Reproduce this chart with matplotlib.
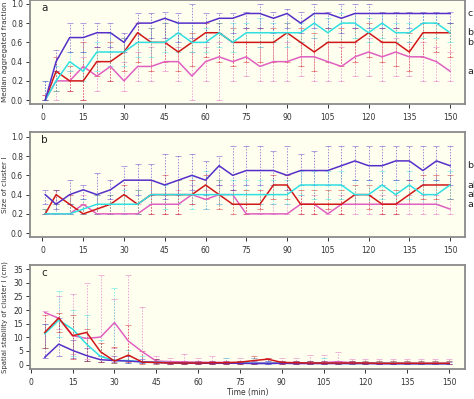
import matplotlib
matplotlib.use("Agg")
import matplotlib.pyplot as plt

# ---------------- data ----------------
time_ab = [1, 5, 10, 15, 20, 25, 30, 35, 40, 45, 50, 55, 60, 65, 70, 75, 80, 85, 90,
           95, 100, 105, 110, 115, 120, 125, 130, 135, 140, 145, 150]
time_c = time_ab[1:]
xticks = [0, 15, 30, 45, 60, 75, 90, 105, 120, 135, 150]

# Panel a: median aggregated fraction
purple_a = [0, 0.4, 0.65, 0.65, 0.7, 0.7, 0.6, 0.8, 0.8, 0.85, 0.8, 0.8, 0.8, 0.85, 0.85, 0.9,
            0.9, 0.85, 0.9, 0.8, 0.9, 0.9, 0.85, 0.9, 0.9, 0.9, 0.9, 0.9, 0.9, 0.9, 0.9]
cyan_a = [0, 0.2, 0.4, 0.3, 0.5, 0.5, 0.5, 0.6, 0.6, 0.6, 0.7, 0.6, 0.6, 0.7, 0.6, 0.7,
          0.7, 0.7, 0.7, 0.7, 0.8, 0.7, 0.8, 0.8, 0.7, 0.8, 0.7, 0.7, 0.8, 0.8, 0.7]
red_a = [0, 0.3, 0.2, 0.2, 0.4, 0.4, 0.5, 0.7, 0.6, 0.6, 0.5, 0.6, 0.7, 0.7, 0.6, 0.6,
         0.6, 0.6, 0.7, 0.6, 0.5, 0.6, 0.6, 0.6, 0.7, 0.6, 0.6, 0.5, 0.7, 0.7, 0.7]
pink_a = [0, 0.2, 0.2, 0.35, 0.25, 0.35, 0.2, 0.35, 0.35, 0.4, 0.4, 0.25, 0.4, 0.45, 0.4, 0.45,
          0.35, 0.4, 0.4, 0.45, 0.45, 0.4, 0.35, 0.45, 0.5, 0.45, 0.5, 0.45, 0.45, 0.4, 0.3]

purple_a_hi = [0.2, 0.52, 0.8, 0.8, 0.8, 0.8, 0.7, 0.9, 0.9, 0.92, 0.9, 1.0, 0.9, 0.9, 0.9, 0.92,
               1.0, 0.92, 0.95, 0.92, 1.0, 0.92, 1.0, 1.0, 1.0, 0.92, 0.92, 0.92, 0.92, 0.92, 0.92]
purple_a_lo = [0, 0.3, 0.5, 0.5, 0.55, 0.55, 0.5, 0.6, 0.65, 0.65, 0.6, 0.65, 0.6, 0.7, 0.7, 0.75,
               0.75, 0.7, 0.75, 0.7, 0.75, 0.75, 0.7, 0.75, 0.75, 0.75, 0.75, 0.75, 0.8, 0.8, 0.8]
cyan_a_hi = [0.2, 0.35, 0.5, 0.5, 0.6, 0.7, 0.65, 0.7, 0.75, 0.8, 0.8, 0.8, 0.75, 0.8, 0.8, 0.8,
             0.85, 0.8, 0.8, 0.8, 0.9, 0.85, 0.9, 0.9, 0.85, 0.9, 0.8, 0.8, 0.9, 0.9, 0.8]
cyan_a_lo = [0, 0.1, 0.3, 0.2, 0.3, 0.35, 0.35, 0.45, 0.45, 0.5, 0.5, 0.5, 0.5, 0.55, 0.5, 0.6,
             0.55, 0.6, 0.55, 0.6, 0.65, 0.6, 0.6, 0.65, 0.6, 0.65, 0.6, 0.6, 0.65, 0.65, 0.6]
red_a_hi = [0.05, 0.45, 0.35, 0.6, 0.55, 0.6, 0.65, 0.8, 0.75, 0.8, 0.7, 0.7, 0.8, 0.8, 0.75, 0.75,
            0.75, 0.75, 0.8, 0.75, 0.7, 0.75, 0.75, 0.75, 0.8, 0.75, 0.75, 0.7, 0.8, 0.8, 0.8]
red_a_lo = [0, 0.1, 0.1, 0.0, 0.25, 0.2, 0.3, 0.4, 0.3, 0.4, 0.3, 0.35, 0.45, 0.4, 0.35, 0.4,
            0.4, 0.4, 0.4, 0.35, 0.3, 0.4, 0.35, 0.4, 0.45, 0.4, 0.35, 0.3, 0.45, 0.5, 0.45]
pink_a_hi = [0.05, 0.3, 0.3, 0.45, 0.4, 0.5, 0.4, 0.5, 0.55, 0.6, 0.55, 0.5, 0.55, 0.6, 0.6, 0.6,
             0.55, 0.6, 0.6, 0.6, 0.65, 0.6, 0.55, 0.6, 0.65, 0.6, 0.65, 0.6, 0.6, 0.55, 0.5]
pink_a_lo = [0, 0.0, 0.1, 0.0, 0.1, 0.2, 0.1, 0.2, 0.2, 0.3, 0.2, 0.0, 0.2, 0.0, 0.2, 0.25,
             0.2, 0.2, 0.2, 0.25, 0.2, 0.2, 0.2, 0.25, 0.25, 0.2, 0.25, 0.25, 0.2, 0.2, 0.2]

# Panel b: size of cluster I
purple_b = [0.4, 0.3, 0.4, 0.45, 0.4, 0.45, 0.55, 0.55, 0.55, 0.5, 0.55, 0.6, 0.55, 0.7, 0.6, 0.65,
            0.65, 0.65, 0.6, 0.65, 0.65, 0.65, 0.7, 0.75, 0.7, 0.7, 0.75, 0.75, 0.65, 0.75, 0.7]
cyan_b = [0.2, 0.2, 0.2, 0.25, 0.3, 0.3, 0.3, 0.3, 0.4, 0.4, 0.4, 0.4, 0.4, 0.4, 0.4, 0.4,
          0.4, 0.4, 0.4, 0.5, 0.5, 0.5, 0.5, 0.4, 0.4, 0.5, 0.4, 0.5, 0.4, 0.4, 0.5]
red_b = [0.2, 0.4, 0.3, 0.2, 0.25, 0.3, 0.4, 0.3, 0.4, 0.4, 0.4, 0.4, 0.5, 0.4, 0.3, 0.3,
         0.3, 0.5, 0.5, 0.3, 0.3, 0.3, 0.3, 0.4, 0.4, 0.3, 0.3, 0.4, 0.5, 0.5, 0.5]
pink_b = [0.2, 0.2, 0.2, 0.3, 0.2, 0.2, 0.2, 0.2, 0.3, 0.3, 0.3, 0.4, 0.35, 0.4, 0.4, 0.2,
          0.2, 0.2, 0.2, 0.3, 0.3, 0.2, 0.3, 0.3, 0.3, 0.3, 0.3, 0.3, 0.3, 0.3, 0.25]

purple_b_hi = [0.45, 0.45, 0.55, 0.5, 0.62, 0.55, 0.7, 0.72, 0.72, 0.82, 0.8, 0.82, 0.75, 0.8, 0.9, 0.9,
               0.9, 0.85, 0.9, 0.82, 0.85, 0.9, 0.9, 0.9, 0.9, 0.9, 0.9, 0.9, 0.9, 0.9, 0.9]
purple_b_lo = [0.3, 0.25, 0.3, 0.35, 0.3, 0.35, 0.4, 0.4, 0.4, 0.35, 0.4, 0.45, 0.4, 0.5, 0.45, 0.5,
               0.5, 0.5, 0.45, 0.5, 0.5, 0.5, 0.5, 0.55, 0.55, 0.5, 0.55, 0.55, 0.5, 0.55, 0.5]
cyan_b_hi = [0.25, 0.3, 0.3, 0.35, 0.4, 0.4, 0.45, 0.45, 0.55, 0.5, 0.55, 0.6, 0.65, 0.55, 0.55, 0.55,
             0.55, 0.55, 0.55, 0.65, 0.65, 0.65, 0.65, 0.55, 0.55, 0.65, 0.55, 0.65, 0.55, 0.55, 0.65]
cyan_b_lo = [0.2, 0.2, 0.2, 0.2, 0.2, 0.2, 0.2, 0.2, 0.3, 0.25, 0.3, 0.25, 0.25, 0.3, 0.3, 0.3,
             0.3, 0.3, 0.3, 0.4, 0.35, 0.35, 0.35, 0.3, 0.3, 0.35, 0.3, 0.35, 0.3, 0.3, 0.35]
red_b_hi = [0.25, 0.45, 0.4, 0.3, 0.4, 0.4, 0.5, 0.45, 0.55, 0.6, 0.55, 0.55, 0.6, 0.55, 0.45, 0.45,
            0.45, 0.6, 0.6, 0.45, 0.45, 0.45, 0.45, 0.5, 0.5, 0.45, 0.45, 0.55, 0.6, 0.6, 0.6]
red_b_lo = [0.2, 0.3, 0.2, 0.2, 0.2, 0.2, 0.3, 0.2, 0.2, 0.2, 0.2, 0.3, 0.35, 0.25, 0.2, 0.2,
            0.25, 0.35, 0.35, 0.2, 0.2, 0.25, 0.2, 0.3, 0.25, 0.2, 0.2, 0.3, 0.35, 0.35, 0.35]
pink_b_hi = [0.2, 0.3, 0.3, 0.4, 0.3, 0.3, 0.3, 0.3, 0.4, 0.4, 0.45, 0.5, 0.45, 0.5, 0.5, 0.3,
             0.3, 0.3, 0.3, 0.4, 0.4, 0.3, 0.4, 0.4, 0.4, 0.4, 0.4, 0.4, 0.4, 0.4, 0.35]
pink_b_lo = [0.2, 0.2, 0.2, 0.2, 0.2, 0.2, 0.2, 0.2, 0.2, 0.2, 0.2, 0.3, 0.25, 0.3, 0.3, 0.2,
             0.2, 0.2, 0.2, 0.2, 0.2, 0.2, 0.2, 0.2, 0.2, 0.2, 0.2, 0.2, 0.2, 0.2, 0.2]

# Panel c: spatial stability of cluster I (cm)
purple_c = [2.7, 7.5, 5.2, 3.3, 1.8, 1.5, 1.3, 1.0, 0.8, 0.6, 0.5, 0.5, 0.5, 0.5, 0.5, 0.4,
            0.4, 0.5, 0.4, 0.4, 0.4, 0.4, 0.4, 0.4, 0.3, 0.3, 0.3, 0.3, 0.3, 0.3]
cyan_c = [11.3, 16.3, 13.0, 7.5, 3.0, 1.5, 1.5, 1.0, 0.9, 0.7, 0.6, 0.6, 0.6, 0.6, 0.6, 0.5,
          0.5, 0.5, 0.6, 0.5, 0.5, 0.5, 0.4, 0.5, 0.5, 0.5, 0.4, 0.4, 0.4, 0.4]
red_c = [11.8, 17.1, 10.6, 11.8, 4.7, 1.3, 3.5, 0.9, 0.8, 0.6, 0.6, 0.6, 0.7, 0.7, 0.9, 1.5,
         2.0, 0.8, 0.7, 0.6, 0.6, 0.6, 0.6, 0.6, 0.5, 0.5, 0.5, 0.5, 0.5, 0.5]
pink_c = [19.1, 17.0, 10.6, 9.6, 10.1, 15.4, 8.6, 4.7, 1.3, 1.1, 1.0, 0.9, 0.8, 0.8, 0.7, 0.7,
          0.7, 0.7, 0.7, 0.7, 0.7, 1.1, 0.7, 0.6, 0.6, 0.6, 0.6, 0.5, 0.5, 0.5]

purple_c_hi = [15, 17, 9, 6, 3, 3, 3, 2, 2, 1.5, 1.5, 1.5, 1.5, 1.5, 1.5, 1.2,
               1.2, 1.2, 1.2, 1.2, 1.2, 1.2, 1.2, 1.0, 1.0, 1.0, 1.0, 1.0, 1.0, 1.0]
purple_c_lo = [2.5, 3, 2.5, 1.5, 1, 0.8, 0.7, 0.5, 0.5, 0.3, 0.3, 0.3, 0.3, 0.3, 0.3, 0.2,
               0.2, 0.2, 0.2, 0.2, 0.2, 0.2, 0.2, 0.2, 0.1, 0.1, 0.1, 0.1, 0.1, 0.1]
cyan_c_hi = [15, 27, 20, 18, 9, 28, 5.5, 3, 2, 1.5, 1.5, 1.5, 1.5, 2.5, 1.5, 2.5,
             1.5, 1.5, 1.5, 1.5, 2.5, 1.5, 1.5, 1.5, 1.5, 1.2, 1.2, 1.2, 1.2, 1.2]
cyan_c_lo = [6, 10, 3, 1.5, 1, 0.5, 0.5, 0.5, 0.3, 0.3, 0.3, 0.3, 0.3, 0.3, 0.3, 0.2,
             0.2, 0.2, 0.2, 0.2, 0.2, 0.2, 0.2, 0.2, 0.2, 0.2, 0.2, 0.2, 0.2, 0.2]
red_c_hi = [18, 19, 18, 13, 8, 6.5, 14.5, 5, 2, 1.5, 1.5, 1.5, 1.5, 1.5, 1.5, 3,
            2.5, 1.5, 1.5, 1.5, 1.5, 1.5, 1.5, 1.5, 1.5, 1.5, 1.5, 1.5, 1.5, 1.5]
red_c_lo = [6, 12, 2, 1.5, 1, 0.5, 1, 0.4, 0.3, 0.3, 0.3, 0.3, 0.3, 0.3, 0.3, 0.4,
            0.5, 0.3, 0.3, 0.3, 0.3, 0.3, 0.3, 0.3, 0.2, 0.2, 0.2, 0.2, 0.2, 0.2]
pink_c_hi = [19.5, 25, 26, 30, 33, 24, 33, 21, 3, 2.5, 4, 2.5, 3, 2.5, 2.5, 2.5,
             2.5, 2.5, 2.5, 3.5, 3.5, 4.5, 2, 2, 2, 2, 2, 2, 2, 2]
pink_c_lo = [6, 13, 4, 2, 3, 6, 3, 1.5, 0.5, 0.4, 0.4, 0.4, 0.3, 0.3, 0.3, 0.3,
             0.3, 0.3, 0.3, 0.3, 0.3, 0.4, 0.3, 0.3, 0.3, 0.3, 0.3, 0.3, 0.3, 0.3]

letters_a = ["c", "b", "b", "a"]
letter_pos_a = [0.9, 0.7, 0.6, 0.3]
letters_b = ["b", "ab", "ab", "a"]
letter_pos_b = [0.7, 0.49, 0.40, 0.30]

# ---------------- style ----------------
C_PURPLE = "#5530c8"
C_CYAN = "#30e0e0"
C_RED = "#d01818"
C_PINK = "#e060c0"
BG = "#fffff0"
SPINE = "#8a8a8a"

fig = plt.figure(figsize=(4.74, 3.99), dpi=100)
W, H = 474.0, 399.0


def add_ax(x0, y0, x1, y1):
    return fig.add_axes([x0 / W, 1 - y1 / H, (x1 - x0) / W, (y1 - y0) / H])


ax_a = add_ax(30, 0, 465, 104)
ax_b = add_ax(30, 132, 465, 237)
ax_c = add_ax(30, 265, 465, 369)


def style(ax, xlim, ylim, yticks, yfmt):
    ax.set_facecolor(BG)
    ax.set_xlim(*xlim)
    ax.set_ylim(*ylim)
    ax.set_xticks(xticks)
    ax.set_yticks(yticks)
    ax.set_yticklabels([yfmt.format(v) for v in yticks])
    for s in ax.spines.values():
        s.set_color(SPINE)
        s.set_linewidth(1.3)
    ax.tick_params(axis="both", labelsize=5.5, colors="#333333", length=3,
                   width=0.7, pad=2)
    ax.tick_params(axis="x", pad=3.5)


def draw(ax, t, series):
    for med, lo, hi, col in series:
        yerr = [[max(0.0, m - l) for m, l in zip(med, lo)],
                [max(0.0, h - m) for m, h in zip(med, hi)]]
        eb = ax.errorbar(t, med, yerr=yerr, fmt="none", ecolor=col, elinewidth=0.7,
                         capsize=2.2, capthick=0.6, alpha=0.55)
        for lc in eb[2]:
            lc.set_linestyle((0, (1.5, 1.5)))
    for med, lo, hi, col in series:
        ax.plot(t, med, color=col, lw=1.1)


draw(ax_a, time_ab, [
    (pink_a, pink_a_lo, pink_a_hi, C_PINK),
    (red_a, red_a_lo, red_a_hi, C_RED),
    (cyan_a, cyan_a_lo, cyan_a_hi, C_CYAN),
    (purple_a, purple_a_lo, purple_a_hi, C_PURPLE),
])
draw(ax_b, time_ab, [
    (pink_b, pink_b_lo, pink_b_hi, C_PINK),
    (red_b, red_b_lo, red_b_hi, C_RED),
    (cyan_b, cyan_b_lo, cyan_b_hi, C_CYAN),
    (purple_b, purple_b_lo, purple_b_hi, C_PURPLE),
])
draw(ax_c, time_c, [
    (pink_c, pink_c_lo, pink_c_hi, C_PINK),
    (cyan_c, cyan_c_lo, cyan_c_hi, C_CYAN),
    (purple_c, purple_c_lo, purple_c_hi, C_PURPLE),
    (red_c, red_c_lo, red_c_hi, C_RED),
])

frac_ticks = [0.0, 0.2, 0.4, 0.6, 0.8, 1.0]
style(ax_a, (-4.6, 155.5), (-0.04, 1.04), frac_ticks, "{:.1f}")
style(ax_b, (-4.6, 155.5), (-0.04, 1.05), frac_ticks, "{:.1f}")
style(ax_c, (-0.3, 155.7), (-1.6, 36.5), [0, 5, 10, 15, 20, 25, 30, 35], "{:.0f}")

ax_a.set_ylabel("Median aggregated fraction", fontsize=5.2, color="#333333", labelpad=2)
ax_b.set_ylabel("Size of cluster I", fontsize=5.3, color="#333333", labelpad=2)
ax_c.set_ylabel("Spatial stability of cluster I (cm)", fontsize=5, color="#333333", labelpad=4)
ax_c.set_xlabel("Time (min)", fontsize=5.5, color="#333333", labelpad=1)

for ax, lab in [(ax_a, "a"), (ax_b, "b"), (ax_c, "c")]:
    ax.text(0.025, 0.92, lab, transform=ax.transAxes, fontsize=7.5, ha="left",
            va="center", color="#222222")

for txt, yv in zip(letters_a, letter_pos_a):
    ax_a.text(156.3, yv, txt, fontsize=6.8, ha="left", va="center", clip_on=False,
              color="#222222")
for txt, yv in zip(letters_b, letter_pos_b):
    ax_b.text(156.3, yv, txt, fontsize=6.8, ha="left", va="center", clip_on=False,
              color="#222222")

fig.savefig("out.png", dpi=100, facecolor="white")
